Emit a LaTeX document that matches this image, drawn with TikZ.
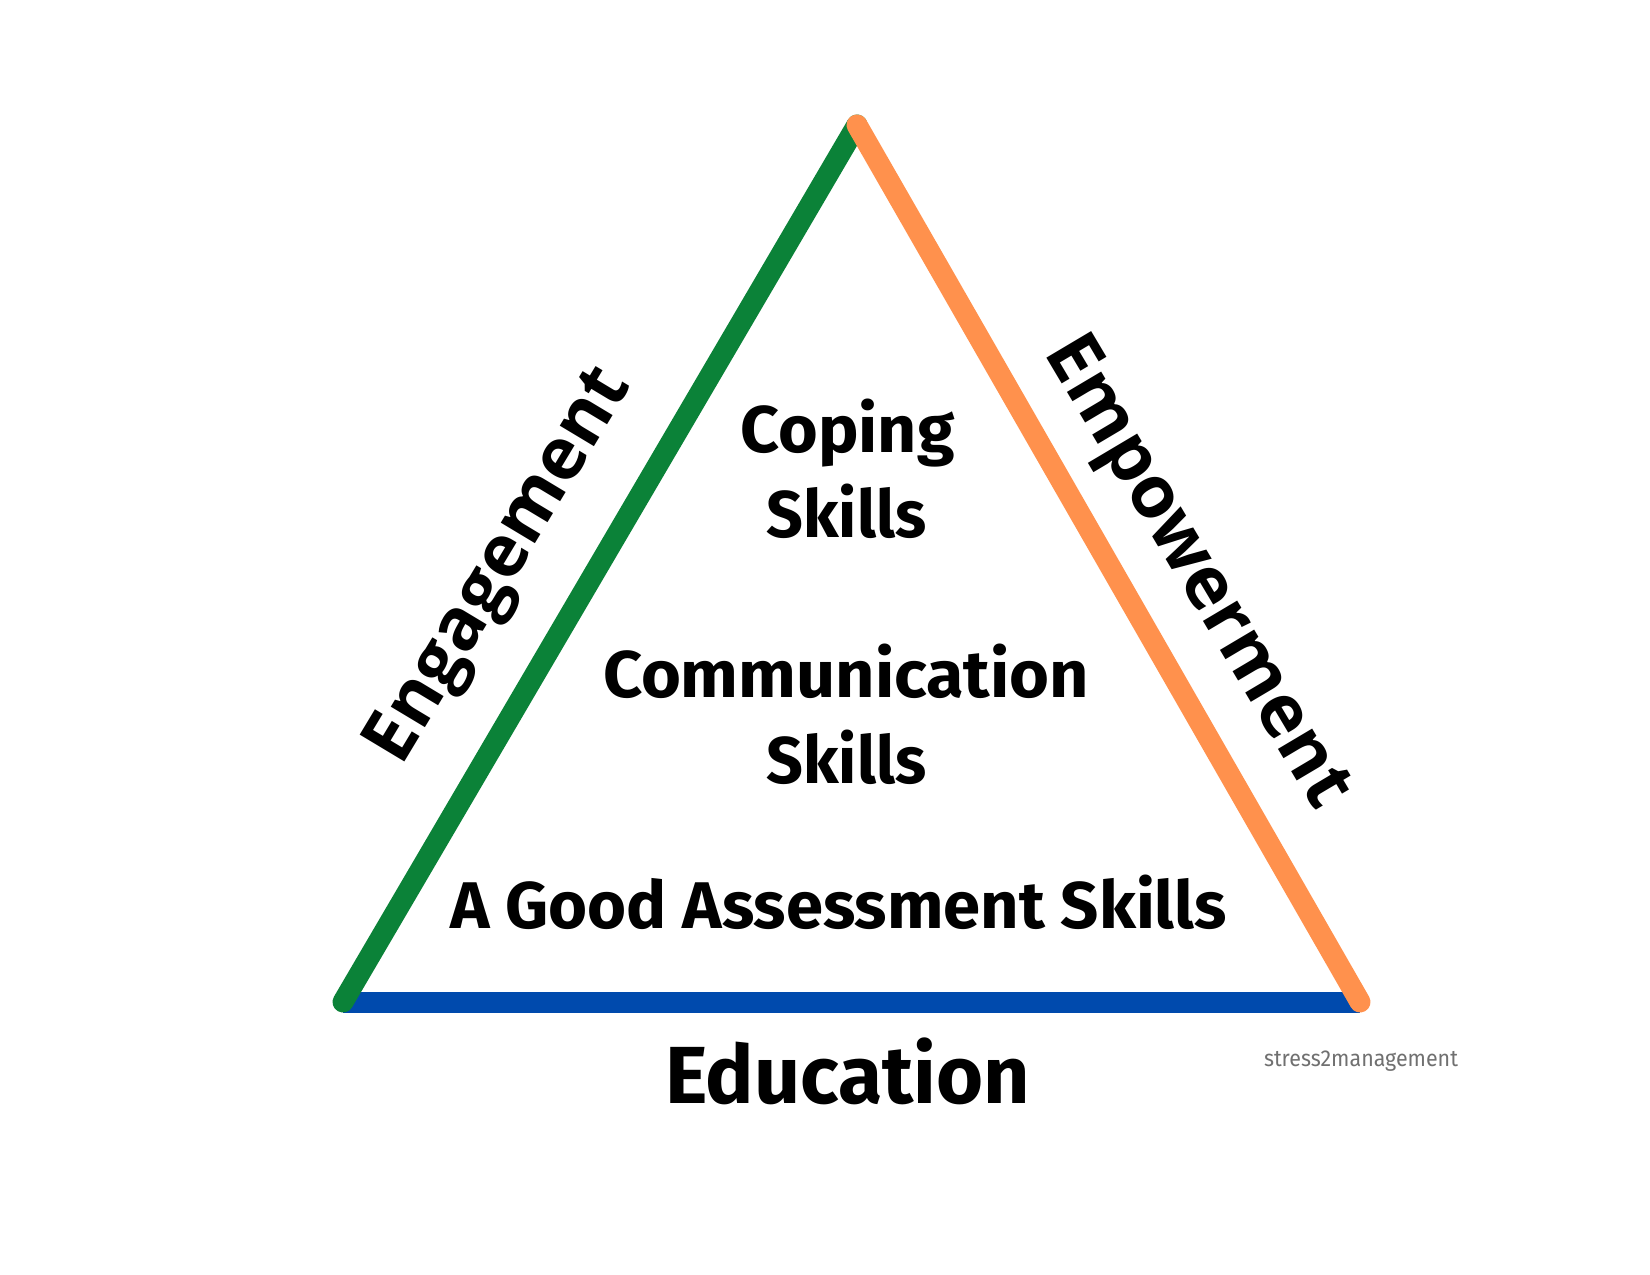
\documentclass[tikz,border=0pt]{standalone}
\usepackage{fontspec}
\usepackage{graphicx}
\usetikzlibrary{calc}
\newfontfamily\mainfam{Fira Sans}
\newfontfamily\sidefam{Open Sans}
\definecolor{sidegreen}{HTML}{0B8238}
\definecolor{sideorange}{HTML}{FF914D}
\definecolor{sideblue}{HTML}{004AAD}
\definecolor{markgray}{HTML}{707070}
\newsavebox\fitbox
\newcommand\fitw[2]{\sbox\fitbox{#2}\pgfmathsetmacro\fitratio{#1/\the\wd\fitbox}\scalebox{\fitratio}[1]{\usebox\fitbox}}
\tikzset{
  edgeline/.style={line width=21pt},
  innertext/.style={inner sep=0pt, anchor=base, font=\mainfam\bfseries\fontsize{66}{70}\selectfont},
  bigtext/.style={inner sep=0pt, anchor=base, font=\mainfam\bfseries\fontsize{81}{86}\selectfont},
  sidetext/.style={inner sep=0pt, anchor=base, font=\sidefam\bfseries\fontsize{73}{78}\selectfont},
  brandtext/.style={inner sep=0pt, anchor=base, text=markgray, font=\mainfam\fontsize{23}{26}\selectfont}
}
\begin{document}
\begin{tikzpicture}[x=1pt,y=-1pt]
\fill[white] (0,0) rectangle (1650,1275);
\useasboundingbox (0,0) rectangle (1650,1275);
\coordinate (T) at (857,125);
\coordinate (BL) at (343,1002);
\coordinate (BR) at (1360,1002);
\draw[edgeline, sideblue, line cap=butt] (BL) -- (BR);
\draw[edgeline, sidegreen, line cap=round] (T) -- (BL);
\draw[edgeline, sideorange, line cap=round] (T) -- (BR);
\node[innertext] (coping) at (847.5,452) {\fitw{214}{Coping}};
\node[innertext] (skills1) at (846.5,537) {\fitw{160}{Skills}};
\node[innertext] (comm) at (846,697) {\fitw{486}{Communication}};
\node[innertext] (skills2) at (846.5,783) {\fitw{160}{Skills}};
\node[innertext] (assess) at (838.5,928) {\fitw{777}{A Good Assessment Skills}};
\node[bigtext] (edu) at (847.5,1103) {\fitw{365}{Education}};
\node[sidetext, rotate=59] (engage) at ($(BL)!455.5pt!(T)!65.6pt!90:(T)$) {\fitw{447}{Engagement}};
\node[sidetext, rotate=-59.3] (empower) at ($(T)!557.5pt!(BR)!52.6pt!90:(BR)$) {\fitw{535}{Empowerment}};
\node[brandtext] (brand) at (1361,1066) {\fitw{194}{stress2management}};
\end{tikzpicture}
\end{document}
